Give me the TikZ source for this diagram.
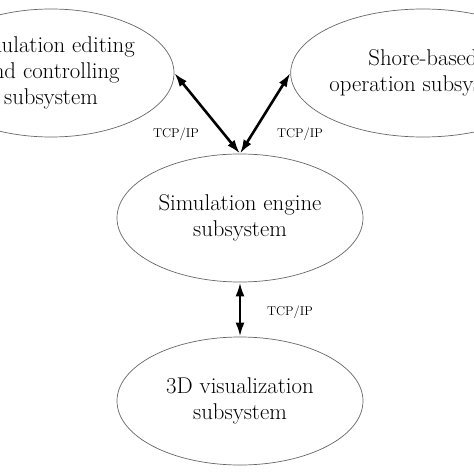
\documentclass[tikz,border=0pt]{standalone}
\usetikzlibrary{shapes.geometric,arrows.meta}
\tikzset{
  subsys/.style={draw=black!60, line width=0.7pt, ellipse, minimum width=246pt,
    minimum height=128pt, inner sep=0pt, align=center,
    font=\fontsize{22.8}{26}\selectfont},
  link/.style={line width=2.6pt, {Latex[length=14pt,width=9pt]}-{Latex[length=14pt,width=9pt]}},
  proto/.style={font=\fontsize{12.8}{14}\selectfont}
}
\begin{document}
\begin{tikzpicture}[x=1pt,y=1pt]
% ====================
% Frame of the picture (the ellipses at the sides run off it)
\useasboundingbox (0,0) rectangle (474,-474);
\clip (0,0) rectangle (474,-474);
% ====================
% The four subsystems
\node[subsys] (edit) at (51,-73) {Simulation editing\\and controlling\\subsystem};
\node[subsys] (shore) at (423,-73) {Shore-based\\operation subsystem};
\node[subsys] (engine) at (240,-218) {Simulation engine\\subsystem};
\node[subsys] (visual) at (240,-401) {3D visualization\\subsystem};
% ====================
% TCP/IP links to the engine
\draw[link] (edit.east) -- (engine.north);
\draw[link] (shore.west) -- (engine.north);
\draw[link] (engine.south) -- (visual.north);
% Labels on the links
\node[proto] (lbl1) at (176,-134) {TCP/IP};
\node[proto] (lbl2) at (300,-134) {TCP/IP};
\node[proto] (lbl3) at (290,-312) {TCP/IP};
\end{tikzpicture}
\end{document}
